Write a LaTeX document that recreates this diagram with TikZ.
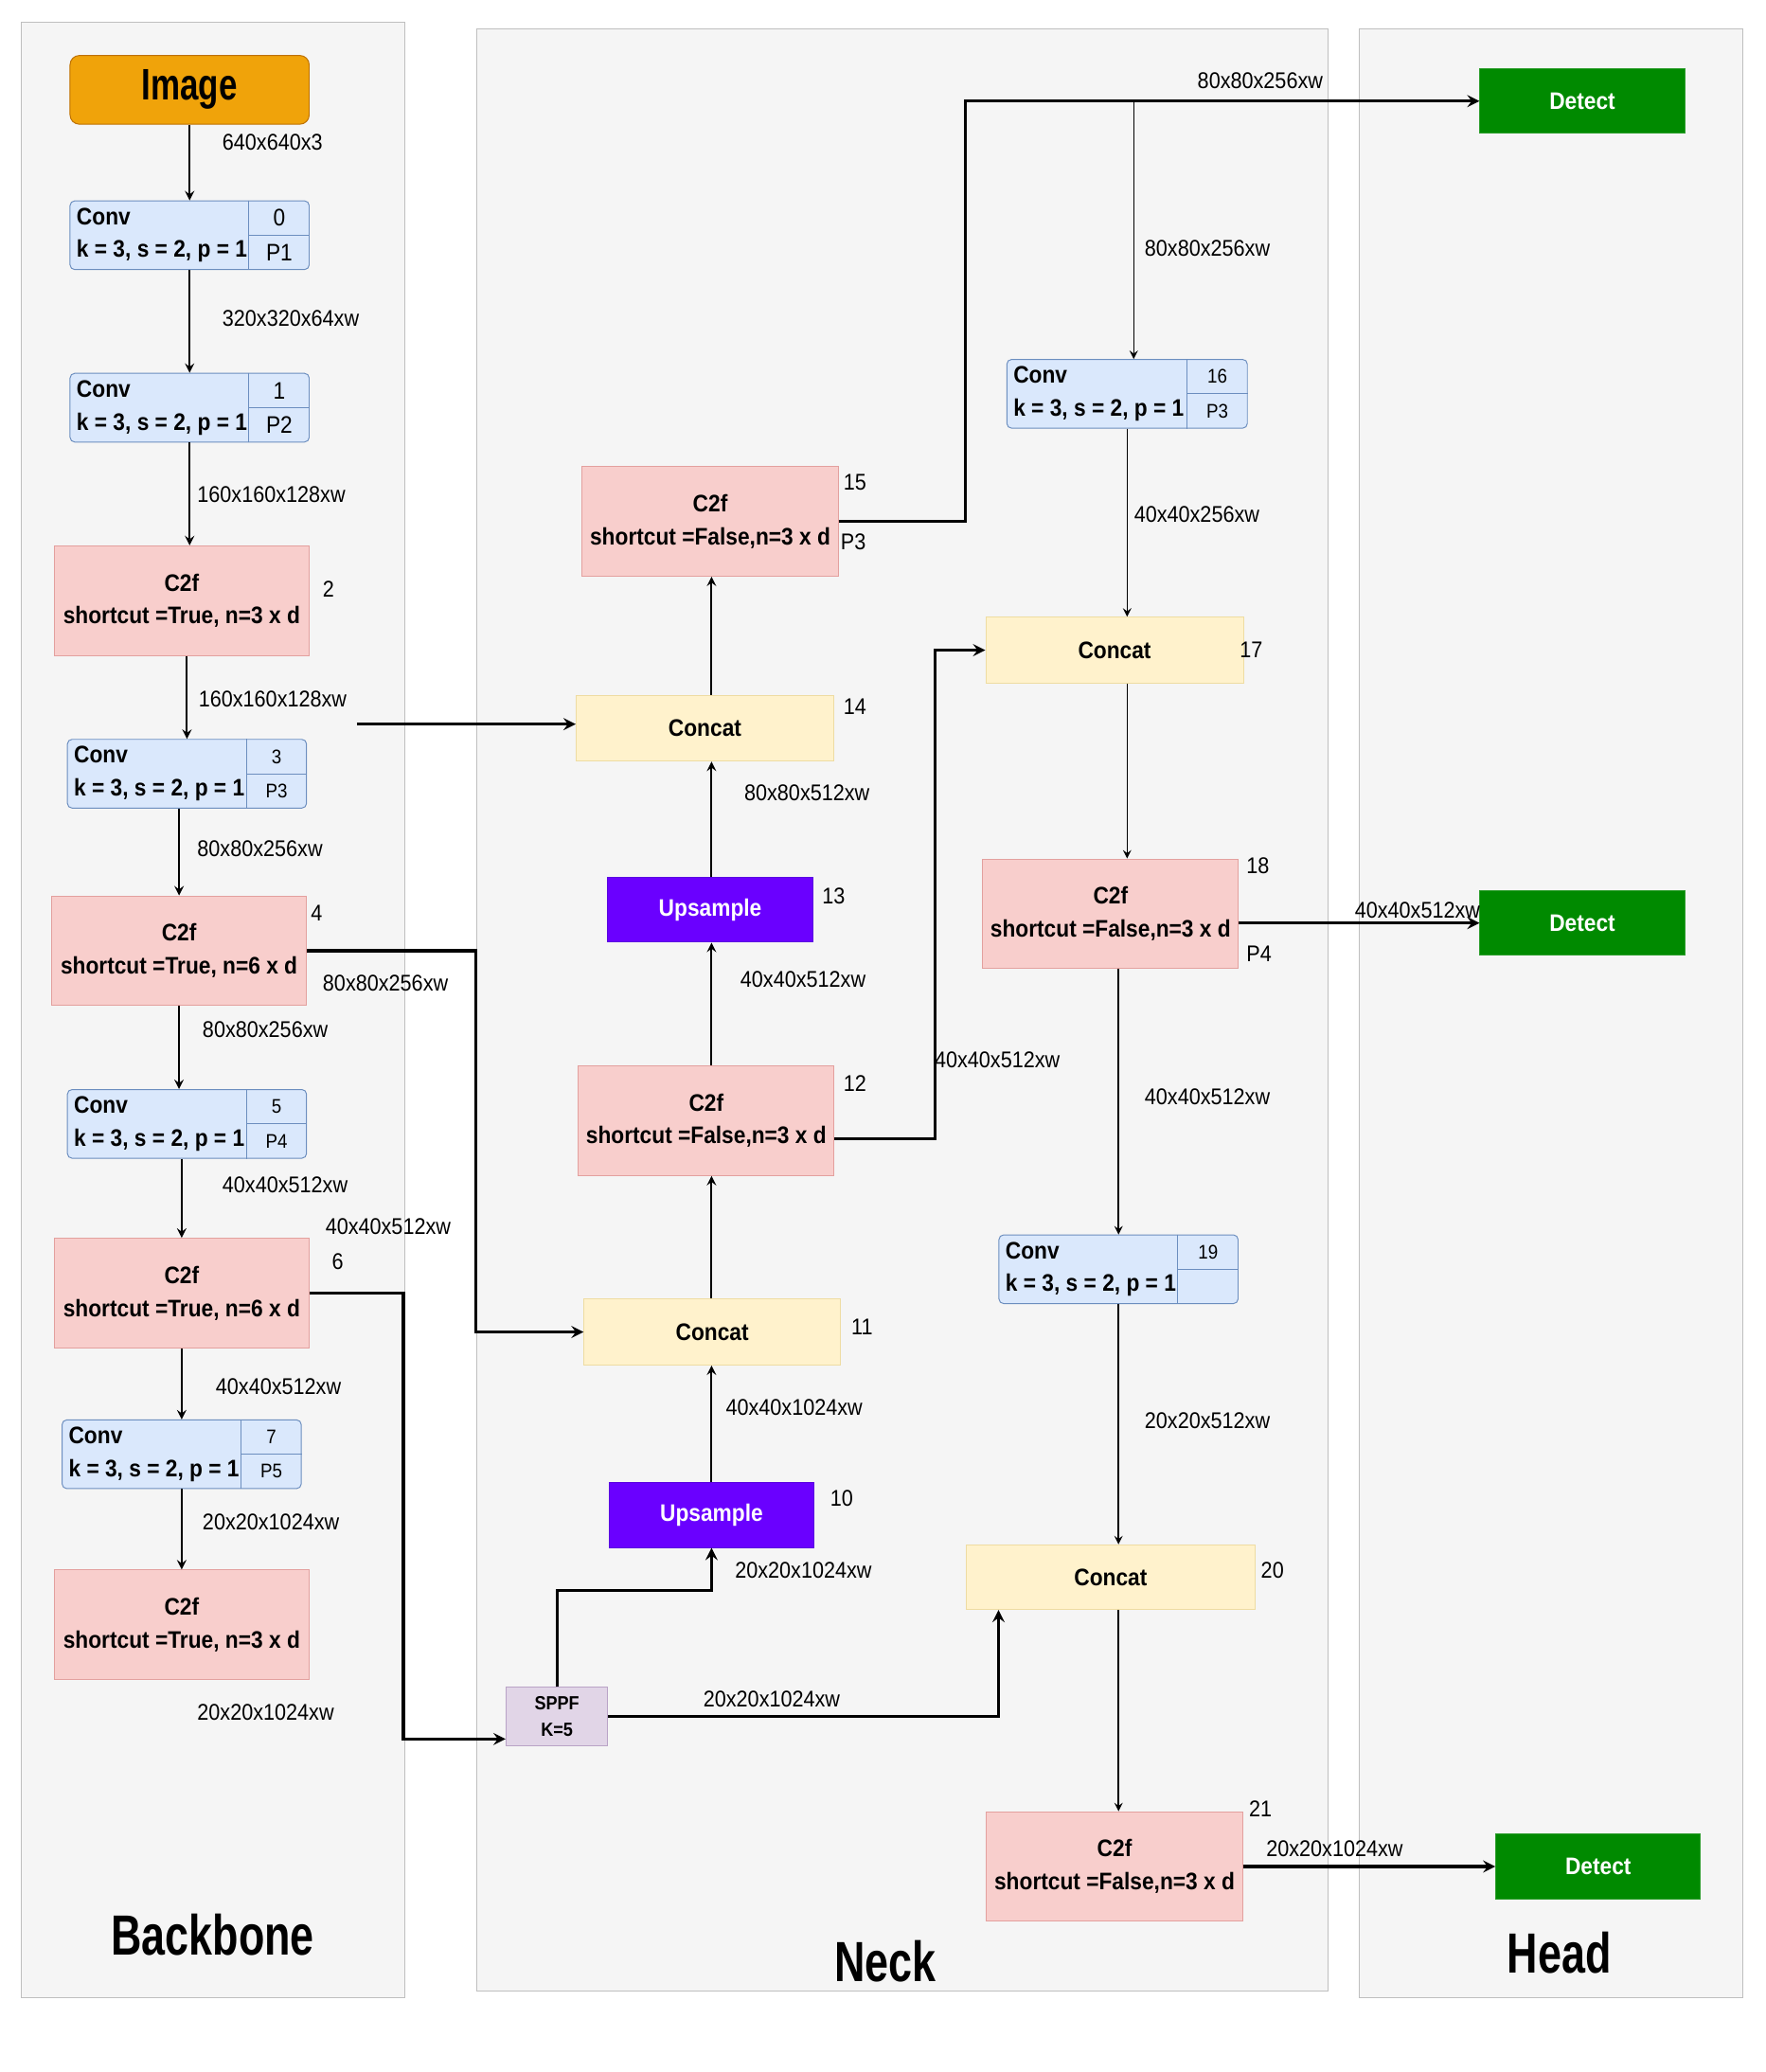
\documentclass[tikz,border=0pt]{standalone}
\usepackage{fontspec}
\setmainfont{Liberation Sans}[FakeStretch=0.9]
\newfontfamily\titlefont{Liberation Sans}[FakeStretch=0.75]
\usetikzlibrary{calc}

\definecolor{panelgray}{HTML}{F5F5F5}
\definecolor{imgorange}{HTML}{F0A30A}
\definecolor{imgborder}{HTML}{BD7000}
\definecolor{convblue}{HTML}{DAE8FC}
\definecolor{convborder}{HTML}{6C8EBF}
\definecolor{c2fred}{HTML}{F8CECC}
\definecolor{c2fborder}{HTML}{E3A09E}
\definecolor{catyellow}{HTML}{FFF2CC}
\definecolor{catborder}{HTML}{EEDCA2}
\definecolor{upviolet}{HTML}{6A00FF}
\definecolor{upborder}{HTML}{5A00E0}
\definecolor{detgreen}{HTML}{008A00}
\definecolor{detborder}{HTML}{2E9E2E}
\definecolor{sppfpurple}{HTML}{E1D5E7}
\definecolor{sppfborder}{HTML}{B9A3C6}

\begin{document}
\begin{tikzpicture}[x=0.02cm, y=-0.02cm]

        % 定义样式
        \tikzstyle{panel} = [fill=panelgray, draw=black!25]
        \tikzstyle{startend} = [rectangle, rounded corners=4pt, minimum width=3.62cm, minimum height=1.04cm, text centered, draw=imgborder, fill=imgorange, font=\titlefont\bfseries\fontsize{19}{22}\selectfont]
        \tikzstyle{conv} = [rectangle, rounded corners=2pt, minimum width=3.62cm, minimum height=1.04cm, draw=convborder, fill=convblue]
        \tikzstyle{convtext} = [anchor=west, align=left, inner sep=0pt, font=\bfseries\fontsize{10.3}{14.2}\selectfont]
        \tikzstyle{c2f} = [rectangle, minimum width=3.86cm, minimum height=1.66cm, align=center, draw=c2fborder, fill=c2fred, font=\bfseries\fontsize{10.3}{14.2}\selectfont]
        \tikzstyle{concat} = [rectangle, minimum width=3.9cm, minimum height=1cm, text centered, draw=catborder, fill=catyellow, font=\bfseries\fontsize{10.3}{14.2}\selectfont]
        \tikzstyle{upsample} = [rectangle, minimum width=3.1cm, minimum height=0.98cm, text centered, draw=upborder, fill=upviolet, text=white, font=\bfseries\fontsize{10.3}{14.2}\selectfont]
        \tikzstyle{detect} = [rectangle, minimum width=3.1cm, minimum height=0.98cm, text centered, draw=detborder, fill=detgreen, text=white, font=\bfseries\fontsize{10.3}{14.2}\selectfont]
        \tikzstyle{sppf} = [rectangle, minimum width=1.54cm, minimum height=0.88cm, align=center, draw=sppfborder, fill=sppfpurple, font=\bfseries\fontsize{8.2}{11.4}\selectfont]
        \tikzstyle{dim} = [anchor=west, inner sep=0pt, font=\fontsize{9.8}{12}\selectfont]
        \tikzstyle{title} = [font=\titlefont\bfseries\fontsize{24.4}{28}\selectfont]
        \tikzstyle{arrow} = [thick,->,>=stealth]
        \tikzstyle{bigarrow} = [line width=1.3pt,->,>=stealth]
        \tikzstyle{thinarrow} = [semithick,->,>=stealth]

        \useasboundingbox (0,0) rectangle (1336,1568);
        \fill[white] (0,0) rectangle (1336,1568);

        % 背景面板
        \draw[panel] (16,17) rectangle (306,1512);
        \draw[panel] (361,22) rectangle (1005,1507);
        \draw[panel] (1029,22) rectangle (1319,1512);
        \node (backbone) [title] at (161,1464) {Backbone};
        \node (neck) [title] at (670,1484) {Neck};
        \node (head) [title] at (1180,1478) {Head};

        % Backbone 节点
        \node (img) [startend] at (143.5,68) {Image};
        \node (conv0) [conv] at (143.5,178) {};
        \node (conv1) [conv] at (143.5,308.5) {};
        \node (c2f2) [c2f] at (137.5,454.5) {C2f\\shortcut =True, n=3 x d};
        \node (conv3) [conv] at (141.5,585.5) {};
        \node (c2f4) [c2f] at (135.5,719.5) {C2f\\shortcut =True, n=6 x d};
        \node (conv5) [conv] at (141.5,850.5) {};
        \node (c2f6) [c2f] at (137.5,978.5) {C2f\\shortcut =True, n=6 x d};
        \node (conv7) [conv] at (137.5,1100.5) {};
        \node (c2f8) [c2f] at (137.5,1229.5) {C2f\\shortcut =True, n=3 x d};

        % Neck 节点
        \node (sppf9) [sppf] at (421.5,1299) {SPPF\\K=5};
        \node (up10) [upsample] at (538.5,1146.5) {Upsample};
        \node (cat11) [concat, minimum width=3.88cm] at (539,1008) {Concat};
        \node (c2f12) [c2f] at (534.5,848) {C2f\\shortcut =False,n=3 x d};
        \node (up13) [upsample] at (537.5,688.5) {Upsample};
        \node (cat14) [concat] at (533.5,551) {Concat};
        \node (c2f15) [c2f] at (537.5,394.5) {C2f\\shortcut =False,n=3 x d};
        \node (conv16) [conv, minimum width=3.64cm] at (853,298) {};
        \node (cat17) [concat] at (843.5,492) {Concat};
        \node (c2f18) [c2f] at (840.5,691.5) {C2f\\shortcut =False,n=3 x d};
        \node (conv19) [conv] at (846.5,960.5) {};
        \node (cat20) [concat, minimum width=4.38cm, minimum height=0.98cm] at (840.5,1193.5) {Concat};
        \node (c2f21) [c2f] at (843.5,1412.5) {C2f\\shortcut =False,n=3 x d};

        % Head 节点
        \node (det1) [detect] at (1197.5,76.5) {Detect};
        \node (det2) [detect] at (1197.5,698.5) {Detect};
        \node (det3) [detect] at (1209.5,1412.5) {Detect};

        % Conv 文字与右侧编号格
        \foreach \c/\i/\p/\s in {conv0/0/P1/10.3, conv1/1/P2/10.3, conv3/3/P3/8.5, conv5/5/P4/8.5, conv7/7/P5/8.5, conv16/16/P3/8.5, conv19/19//8.5} {
            \node (\c-txt) [convtext] at ([xshift=0.1cm]\c.west) {Conv\\k = 3, s = 2, p = 1};
            \draw[convborder] ([xshift=-0.92cm]\c.north east) -- ([xshift=-0.92cm]\c.south east);
            \draw[convborder] ([xshift=-0.92cm]\c.east) -- (\c.east);
            \node (\c-id) at ([xshift=-0.46cm,yshift=0.26cm]\c.east) {\fontsize{\s}{12}\selectfont\i};
            \node (\c-p) at ([xshift=-0.46cm,yshift=-0.26cm]\c.east) {\fontsize{\s}{12}\selectfont\p};
        }

        % 层号
        \node (n2) [dim] at (244,446) {2};
        \node (n4) [dim] at (235,691) {4};
        \node (n6) [dim] at (251,955) {6};
        \node (n10) [dim] at (628,1134) {10};
        \node (n11) [dim] at (644,1004) {11};
        \node (n12) [dim] at (638,820) {12};
        \node (n13) [dim] at (622,678) {13};
        \node (n14) [dim] at (638,535) {14};
        \node (n15) [dim] at (638,365) {15};
        \node (p15) [dim] at (636,410) {P3};
        \node (n17) [dim] at (938,492) {17};
        \node (n18) [dim] at (943,655) {18};
        \node (p18) [dim] at (943,722) {P4};
        \node (n20) [dim] at (954,1188) {20};
        \node (n21) [dim] at (945,1369) {21};

        % 特征图尺寸
        \node (d1) [dim] at (168,108) {640x640x3};
        \node (d2) [dim] at (168,241) {320x320x64xw};
        \node (d3) [dim] at (149,374) {160x160x128xw};
        \node (d4) [dim] at (150,529) {160x160x128xw};
        \node (d5) [dim] at (149,642) {80x80x256xw};
        \node (d6) [dim] at (244,744) {80x80x256xw};
        \node (d7) [dim] at (153,779) {80x80x256xw};
        \node (d8) [dim] at (168,897) {40x40x512xw};
        \node (d9) [dim] at (246,928) {40x40x512xw};
        \node (d10) [dim] at (163,1049) {40x40x512xw};
        \node (d11) [dim] at (153,1152) {20x20x1024xw};
        \node (d12) [dim] at (149,1296) {20x20x1024xw};
        \node (d13) [dim] at (556,1188) {20x20x1024xw};
        \node (d14) [dim] at (532,1286) {20x20x1024xw};
        \node (d15) [dim] at (549,1065) {40x40x1024xw};
        \node (d16) [dim] at (560,741) {40x40x512xw};
        \node (d17) [dim] at (563,600) {80x80x512xw};
        \node (d18) [dim] at (906,61) {80x80x256xw};
        \node (d19) [dim] at (866,188) {80x80x256xw};
        \node (d20) [dim] at (858,389) {40x40x256xw};
        \node (d21) [dim] at (707,802) {40x40x512xw};
        \node (d22) [dim] at (1025,689) {40x40x512xw};
        \node (d23) [dim] at (866,830) {40x40x512xw};
        \node (d24) [dim] at (866,1075) {20x20x512xw};
        \node (d25) [dim] at (958,1399) {20x20x1024xw};

        % 连接节点
        \draw [arrow] (img) -- (conv0);
        \draw [arrow] (conv0) -- (conv1);
        \draw [arrow] (conv1.south) -- (conv1.south |- c2f2.north);
        \draw [arrow] (conv3 |- c2f2.south) -- (conv3.north);
        \draw [arrow] (c2f4 |- conv3.south) -- (c2f4.north);
        \draw [arrow] (c2f4.south) -- (c2f4.south |- conv5.north);
        \draw [arrow] (c2f6 |- conv5.south) -- (c2f6.north);
        \draw [arrow] (c2f6.south) -- (c2f6.south |- conv7.north);
        \draw [arrow] (conv7) -- (c2f8);

        \coordinate (tap2) at (270,548);
        \draw [bigarrow] (tap2) -- (tap2 -| cat14.west);
        \draw [bigarrow] (c2f4.east) -- ++(128,0) |- (cat11.west);
        \draw [bigarrow] (c2f6.east) -- ++(71,0) |- ([yshift=-0.34cm]sppf9.west);

        \draw [bigarrow] (sppf9.north) -- ++(0,-73) -| (up10.south);
        \draw [bigarrow] (sppf9.east) -| ([xshift=0.5cm]cat20.south west);
        \draw [arrow] (up10.north) -- (up10.north |- cat11.south);
        \draw [arrow] (cat11.north -| up10) -- (c2f12.south -| up10);
        \draw [arrow] (c2f12.north -| up10) -- (up13.south -| up10);
        \draw [arrow] (up13.north -| up10) -- (cat14.south -| up10);
        \draw [arrow] (cat14.north -| up10) -- (c2f15.south -| up10);

        \draw [bigarrow] (c2f15.east) -- ++(96,0) |- (det1.west);
        \coordinate (split16) at ($(conv16.north |- det1.west)+(5,0)$);
        \draw [thinarrow] (split16) -- ($(conv16.north)+(5,0)$);
        \draw [thinarrow] (conv16.south) -- (conv16.south |- cat17.north);
        \draw [bigarrow] ([yshift=-0.28cm]c2f12.east) -- ++(76,0) |- (cat17.west);
        \draw [thinarrow] (cat17.south -| conv16) -- (c2f18.north -| conv16);
        \draw [bigarrow] (c2f18.east |- det2.west) -- (det2.west);
        \draw [thinarrow] (c2f18.south -| conv19) -- (conv19.north);
        \draw [thinarrow] (conv19.south) -- (conv19.south |- cat20.north);
        \draw [thinarrow] (cat20.south -| conv19) -- (c2f21.north -| conv19);
        \draw [bigarrow] (c2f21) -- (det3);

    \end{tikzpicture}
\end{document}
